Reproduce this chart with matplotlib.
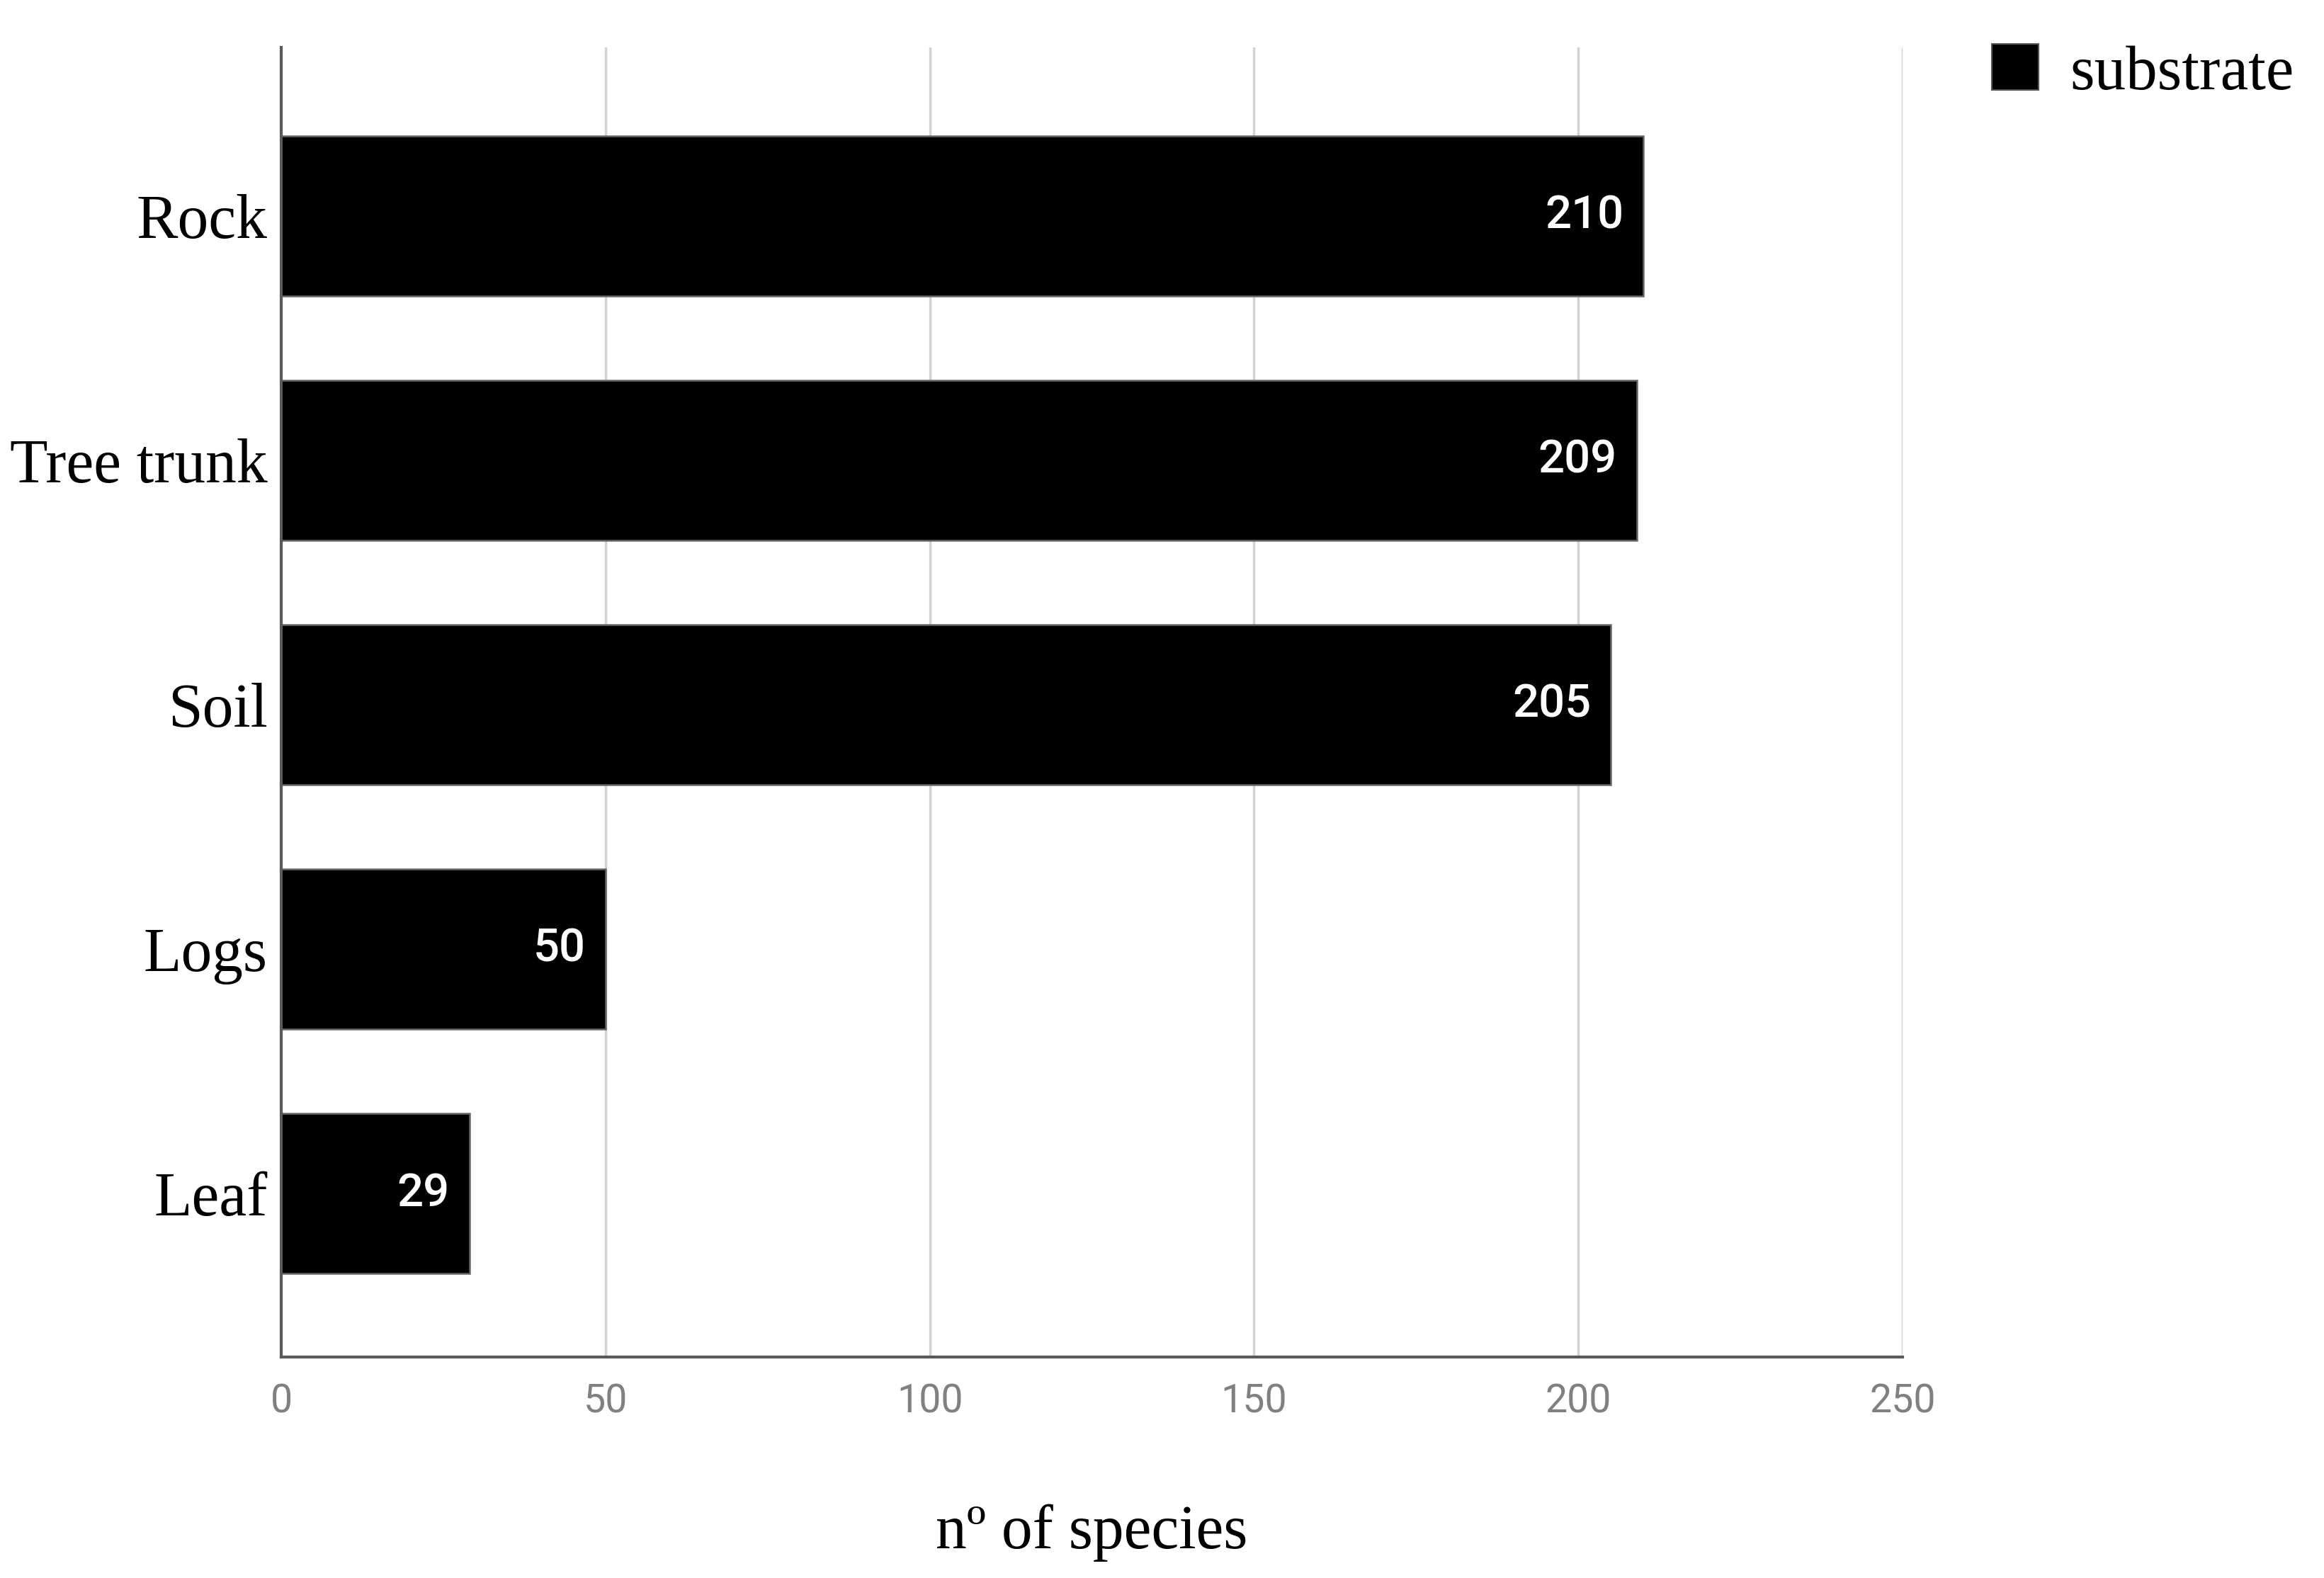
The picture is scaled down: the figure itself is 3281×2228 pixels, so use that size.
import matplotlib
matplotlib.use("Agg")
import matplotlib.pyplot as plt
from matplotlib.patches import Patch

# data
categories = ["Rock", "Tree trunk", "Soil", "Logs", "Leaf"]
species = [210, 209, 205, 50, 29]
xticks = [0, 50, 100, 150, 200, 250]

serif = "Liberation Serif"
sans = "Roboto"

fig = plt.figure(figsize=(32.81, 22.28), dpi=100)
ax = fig.add_axes([0.121, 0.14, 0.6977, 0.83])

ypos = list(range(len(categories)))
bars = ax.barh(ypos, species, height=0.655, color="black",
               edgecolor="#666666", linewidth=1.8, zorder=3)

# value labels inside the bar ends
for y, v in zip(ypos, species):
    ax.annotate(str(v), xy=(v, y), xytext=(-20, 0), textcoords="offset points",
                ha="right", va="center", color="white", fontsize=47,
                family=sans, fontweight="medium", zorder=4)

ax.set_xlim(0, 250)
ax.set_ylim(4.67, -0.69)
ax.set_xticks(xticks)
ax.set_xticklabels([str(t) for t in xticks], family=sans, fontsize=40, color="#808080")
ax.set_yticks(ypos)
ax.set_yticklabels(categories, family=serif, fontsize=63, color="black")
ax.tick_params(axis="x", length=0, pad=26)
ax.tick_params(axis="y", length=0, pad=14)

ax.grid(axis="x", color="#d2d2d2", linewidth=2.5, zorder=0)
for s in ["top", "right"]:
    ax.spines[s].set_visible(False)
for s in ["left", "bottom"]:
    ax.spines[s].set_color("#5a5a5a")
    ax.spines[s].set_linewidth(3)
    ax.spines[s].set_zorder(5)

ax.set_xlabel("nº of species", family=serif, fontsize=63, labelpad=85)

handle = Patch(facecolor="black", edgecolor="#555555", linewidth=1.5)
fig.legend([handle], ["substrate"], loc="upper left", bbox_to_anchor=(0.838, 1.0),
           frameon=False, prop={"family": serif, "size": 64},
           handlelength=0.75, handleheight=0.75, handletextpad=0.5,
           borderaxespad=0.3)

fig.savefig("out.png", dpi=100, facecolor="white")
